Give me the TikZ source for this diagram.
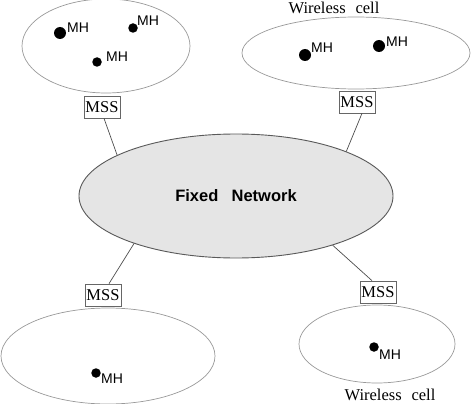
\documentclass[tikz,border=0pt]{standalone}
\usepackage{fontspec}
\setmainfont{Liberation Serif}
\setsansfont{Liberation Sans}
\usetikzlibrary{shapes.geometric}
\tikzset{
  cell/.style={ellipse, draw=black!40, line width=0.7pt, inner sep=0pt},
  net/.style={ellipse, draw=black!65, fill=black!10, line width=0.9pt, inner sep=0pt,
    font=\sffamily\bfseries\fontsize{16.5}{19}\selectfont},
  mss/.style={draw=black!60, line width=0.7pt, fill=white, minimum width=36pt, minimum height=22pt,
    inner sep=1pt, font=\fontsize{16.5}{18}\selectfont},
  bigdot/.style={circle, fill=black, inner sep=0pt, minimum size=12pt},
  smalldot/.style={circle, fill=black, inner sep=0pt, minimum size=9.5pt},
  mh/.style={font=\sffamily\fontsize{14}{16}\selectfont, inner sep=0pt},
  caption/.style={font=\fontsize{16.5}{18}\selectfont, inner sep=0pt},
  link/.style={draw=black!70, line width=0.7pt}
}
\begin{document}
\begin{tikzpicture}[x=1pt,y=-1pt]
\useasboundingbox (0,0) rectangle (474,404);
% cells
\node[cell, minimum width=168pt, minimum height=94pt] (c1) at (106,46) {};
\node[cell, minimum width=228pt, minimum height=72pt] (c2) at (356,53) {};
\node[cell, minimum width=214pt, minimum height=96pt] (c3) at (108,356) {};
\node[cell, minimum width=156pt, minimum height=78pt] (c4) at (377,344) {};
% fixed network
\node[net, minimum width=314pt, minimum height=124pt] (fixed) at (236,196) {Fixed\hspace{0.8em}Network};
% MSS boxes
\node[mss] (m1) at (102,107) {MSS};
\node[mss] (m2) at (357,102) {MSS};
\node[mss] (m3) at (103,295) {MSS};
\node[mss] (m4) at (378,292) {MSS};
% links
\draw[link] ([xshift=2pt]m1.south) -- (fixed.161);
\draw[link] ([xshift=5pt]m2.south) -- (fixed.22);
\draw[link] ([xshift=6pt]m3.north) -- (fixed.205);
\draw[link] ([xshift=-6pt]m4.north) -- (fixed.333);
% mobile hosts
\node[bigdot] (h1) at (60,33) {};
\node[mh] (t1) at (78,28) {MH};
\node[smalldot] (h2) at (133,28) {};
\node[mh] (t2) at (148,21) {MH};
\node[smalldot] (h3) at (97,62) {};
\node[mh] (t3) at (117,57) {MH};
\node[bigdot] (h4) at (305,55) {};
\node[mh] (t4) at (322,48) {MH};
\node[bigdot] (h5) at (379,46) {};
\node[mh] (t5) at (397,42) {MH};
\node[smalldot] (h6) at (96,373) {};
\node[mh] (t6) at (112,379) {MH};
\node[smalldot] (h7) at (374,347) {};
\node[mh] (t7) at (390,355) {MH};
% captions
\node[caption] (w1) at (334,8) {Wireless\hspace{0.6em}cell};
\node[caption] (w2) at (390,395) {Wireless\hspace{0.6em}cell};
\end{tikzpicture}
\end{document}
